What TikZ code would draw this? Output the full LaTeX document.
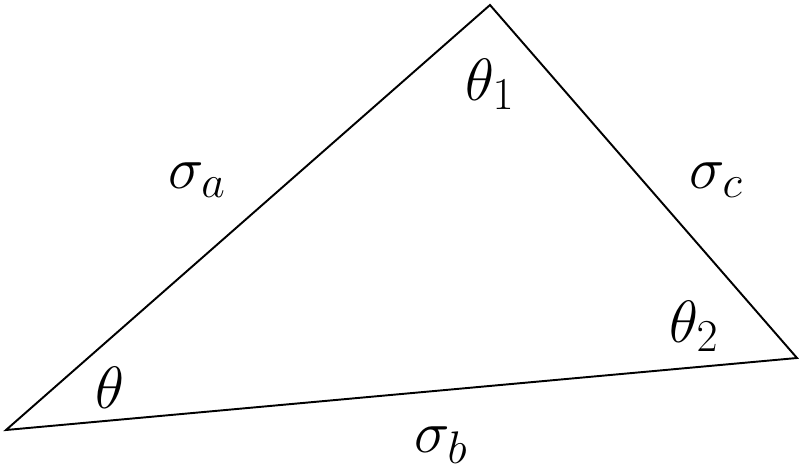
\documentclass[tikz,border=0pt]{standalone}
\usepackage{fix-cm}
\usepackage{amsmath,amssymb}
\usepackage{tikz}
\usetikzlibrary{positioning}
\DeclareMathSizes{34}{34}{26}{20}

\begin{document}
\begin{tikzpicture}
	[x=0.02cm, y=-0.02cm, lbl/.style={font=\fontsize{34}{40}\selectfont, inner sep=0pt}]
   \useasboundingbox (0,0) rectangle (802,473);
   \coordinate (A) at (6,430); 
   \coordinate (B) at (490,5); 
   \coordinate (C) at (797,358);
   \draw[line width=1.1pt, line join=miter] (A) -- (B) -- (C) -- cycle;
   \node[lbl] (t)  at (110,388) {$\theta$};
   \node[lbl] (t1) at (490,84) {$\theta_1$};
   \node[lbl] (t2) at (694,326) {$\theta_2$};
   \node[lbl] (sa) at (197,180) {$\sigma_a$};
   \node[lbl] (sb) at (441,445) {$\sigma_b$};
   \node[lbl] (sc) at (716,180) {$\sigma_c$};
\end{tikzpicture}
\end{document}
